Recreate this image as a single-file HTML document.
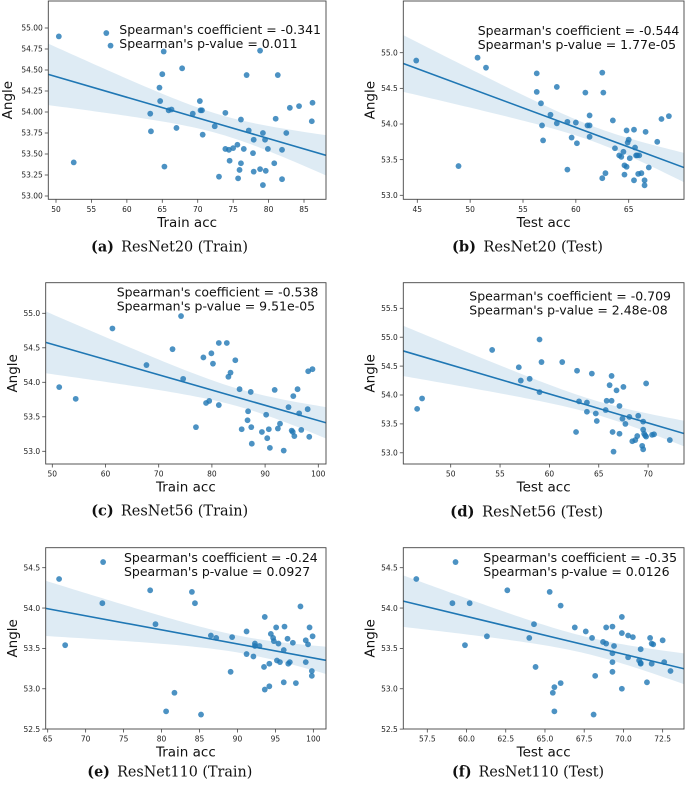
<!DOCTYPE html>
<html><head><meta charset="utf-8"><style>
html,body{margin:0;padding:0;background:#fff;}
svg{display:block;}
.tick{font-family:"DejaVu Sans","Liberation Sans",sans-serif;font-size:7.5px;fill:#222;}
.axl{font-family:"DejaVu Sans","Liberation Sans",sans-serif;font-size:13.5px;fill:#111;}
.ann{font-family:"DejaVu Sans","Liberation Sans",sans-serif;font-size:12.5px;fill:#111;}
.cap{font-family:"DejaVu Serif","Liberation Serif",serif;font-size:14.5px;fill:#111;}
</style></head><body>
<svg id="fig" width="685" height="785" viewBox="0 0 685 785" xmlns="http://www.w3.org/2000/svg"></svg>
<script>
// ===== data =====
const aX=[50.4,52.5,57.1,57.7,65.2,67.8,65.0,64.6,64.7,63.3,63.4,65.9,66.3,67.0,65.3,69.3,70.3,70.4,70.6,70.7,72.4,73.0,73.9,73.9,74.4,75.0,75.6,74.5,76.1,76.1,75.9,75.7,76.5,76.9,77.2,77.8,77.9,77.9,78.8,78.8,79.2,79.5,79.2,79.6,79.9,80.8,81.0,81.3,81.9,81.9,82.5,83.0,84.3,86.1,86.2];
const aY=[54.90,53.40,54.94,54.79,54.72,54.52,54.45,54.29,54.13,53.98,53.77,54.02,54.03,53.81,53.35,53.98,54.13,54.02,54.02,53.73,53.83,53.23,53.99,53.56,53.55,53.57,53.61,53.42,53.91,53.39,53.31,53.21,53.56,54.44,53.78,53.51,53.67,53.29,54.73,53.32,53.75,53.67,53.13,53.30,53.56,53.39,53.92,54.44,53.55,53.20,53.75,54.05,54.07,53.89,54.11];
const bX=[44.9,48.9,50.7,51.5,56.3,56.3,56.7,56.8,56.9,57.6,58.2,58.2,59.2,59.2,59.6,60.0,60.1,60.9,61.1,61.3,61.3,61.3,62.5,62.6,62.5,62.8,63.5,63.7,64.1,64.3,64.5,64.8,64.6,64.8,64.6,64.9,65.0,65.1,65.5,65.6,65.7,65.8,66.0,65.9,65.5,66.2,66.5,66.5,66.6,66.9,67.7,68.1,68.8];
const bY=[54.89,53.41,54.93,54.79,54.71,54.45,54.29,53.98,53.77,54.13,54.52,54.01,54.03,53.36,53.81,54.02,53.73,54.44,53.98,53.98,54.12,53.82,54.72,54.44,53.24,53.31,54.05,53.66,53.56,53.54,53.61,53.91,53.42,53.40,53.29,53.74,53.78,53.52,53.92,53.67,53.56,53.56,53.56,53.30,53.21,53.31,53.21,53.14,53.89,53.39,53.75,54.07,54.11];
const cX=[51.3,54.4,61.3,67.7,72.6,74.2,74.6,77.0,78.4,78.9,79.5,79.9,80.2,81.3,81.3,82.8,83.1,83.5,84.4,85.2,85.6,86.7,86.8,87.3,87.4,87.5,89.4,90.2,90.4,90.7,90.9,91.8,92.4,92.8,93.5,94.4,95.0,95.2,95.3,95.5,96.1,96.4,96.8,98.0,98.1,98.3,98.9];
const cY=[53.93,53.76,54.78,54.25,54.48,54.96,54.05,53.35,54.36,53.70,53.73,54.42,54.27,53.67,54.57,54.57,54.08,54.14,54.32,53.90,53.32,53.45,53.58,53.86,53.35,53.11,53.28,53.53,53.19,53.32,53.05,53.89,53.33,53.40,53.01,53.64,53.30,53.28,53.80,53.22,53.90,53.55,53.31,53.61,54.16,53.21,54.19];
const dX=[46.6,47.1,54.2,56.9,57.1,58.0,59.0,59.0,59.2,61.3,62.8,62.7,63.0,63.8,63.8,64.3,64.7,64.8,65.7,65.8,66.1,66.3,66.3,66.4,66.5,66.8,67.1,67.1,67.4,67.5,67.7,68.1,68.4,68.7,68.9,69.0,69.5,69.4,69.5,69.5,69.6,69.7,69.8,69.8,70.4,70.6,72.2];
const dY=[53.76,53.94,54.78,54.48,54.25,54.28,54.96,54.05,54.57,54.57,54.42,53.36,53.89,53.87,53.71,54.37,53.68,53.55,53.74,53.90,54.17,54.33,53.90,53.36,53.02,54.08,53.81,53.33,53.59,54.14,53.50,53.62,53.20,53.22,53.29,53.64,53.54,53.12,53.06,53.40,53.33,53.30,53.28,54.20,53.31,53.32,53.22];
const eX=[66.5,67.3,72.2,72.3,78.5,79.2,80.6,81.7,84.0,84.4,85.2,86.5,87.2,89.1,89.3,91.2,91.2,92.1,92.3,92.3,92.9,93.5,93.6,93.6,94.2,94.2,94.4,94.7,94.8,95.1,95.2,95.4,95.6,96.1,96.1,96.2,96.6,96.7,96.9,97.3,97.7,98.3,99.0,99.0,99.3,99.5,99.9,99.8,99.8];
const eY=[54.36,53.54,54.06,54.57,54.22,53.80,52.72,52.95,54.20,54.06,52.68,53.66,53.63,53.21,53.64,53.71,53.43,53.40,53.56,53.53,53.53,53.27,53.89,52.99,53.31,53.03,53.68,53.63,53.59,53.76,53.35,53.56,53.33,53.08,53.48,53.77,53.62,53.31,53.33,53.57,53.07,54.02,53.33,53.60,53.55,53.76,53.65,53.22,53.16];
const fX=[56.8,59.1,59.3,59.9,60.2,61.3,62.6,64.0,64.3,64.4,65.3,65.5,65.6,65.6,66.0,66.0,66.9,67.6,68.0,68.1,68.2,68.7,68.9,68.9,69.3,69.3,69.3,69.3,69.4,69.9,69.9,69.9,70.3,70.3,70.6,71.1,71.0,71.1,71.1,71.5,71.7,71.8,71.8,71.9,72.5,72.6,73.0];
const fY=[54.36,54.06,54.57,53.54,54.06,53.65,54.22,53.63,53.80,53.27,54.20,52.95,53.02,52.72,53.07,54.03,53.76,53.71,53.63,52.68,53.16,53.58,53.76,53.56,53.77,53.44,53.33,53.21,53.53,53.89,53.69,53.00,53.39,53.66,53.64,53.49,53.35,53.31,53.32,53.08,53.63,53.31,53.56,53.55,53.60,53.33,53.22];
const aXTicks=[50,55,60,65,70,75,80,85];
const aYTicks=["53.00","53.25","53.50","53.75","54.00","54.25","54.50","54.75","55.00"];
const bXTicks=[45,50,55,60,65];
const bYTicks=["53.0","53.5","54.0","54.5","55.0"];
const cXTicks=[50,60,70,80,90,100];
const cYTicks=["53.0","53.5","54.0","54.5","55.0"];
const dXTicks=[50,55,60,65,70];
const dYTicks=["53.0","53.5","54.0","54.5","55.0","55.5"];
const eXTicks=[65,70,75,80,85,90,95,100];
const eYTicks=["52.5","53.0","53.5","54.0","54.5"];
const fXTicks=["57.5","60.0","62.5","65.0","67.5","70.0","72.5"];
const fYTicks=["52.5","53.0","53.5","54.0","54.5"];
const coefs=["-0.341","-0.544","-0.538","-0.709","-0.24","-0.35"];
const pvals=["0.011","1.77e-05","9.51e-05","2.48e-08","0.0927","0.0126"];

// ===== layout =====
const panels=[
 {id:'a',X:aX,Y:aY,xt:aXTicks,yt:aYTicks,L:48.3,R:326,T:1,B:199.3,x0:50,px0:56,kx:7.086,y0:55,py0:28,ky:84,xl:'Train acc',alx:7,tx:119.3,ty:34,name:'ResNet20 (Train)',cx:169.5,cy:251.5,cw:157},
 {id:'b',X:bX,Y:bY,xt:bXTicks,yt:bYTicks,L:403.3,R:684,T:1,B:199.3,x0:45,px0:417.3,kx:10.57,y0:55,py0:52.7,ky:71.3,xl:'Test acc',alx:369.5,tx:477.7,ty:35,name:'ResNet20 (Test)',cx:527.5,cy:251.5,cw:151},
 {id:'c',X:cX,Y:cY,xt:cXTicks,yt:cYTicks,L:45.7,R:326,T:282.7,B:464,x0:50,px0:52.3,kx:5.32,y0:55,py0:313.3,ky:69,xl:'Train acc',alx:12,tx:116.7,ty:296.5,name:'ResNet56 (Train)',cx:169.7,cy:515.5,cw:157},
 {id:'d',X:dX,Y:dY,xt:dXTicks,yt:dYTicks,L:403.3,R:684,T:282.7,B:464,x0:50,px0:450.7,kx:9.87,y0:55.5,py0:308.3,ky:57.8,xl:'Test acc',alx:369.5,tx:469.3,ty:300.5,name:'ResNet56 (Test)',cx:526.7,cy:516.5,cw:153},
 {id:'e',X:eX,Y:eY,xt:eXTicks,yt:eYTicks,L:45.7,R:326,T:547.7,B:729,x0:65,px0:47.7,kx:7.59,y0:54.5,py0:567.7,ky:80.7,xl:'Train acc',alx:12,tx:124,ty:562,name:'ResNet110 (Train)',cx:169.8,cy:776.5,cw:165},
 {id:'f',X:fX,Y:fY,xt:fXTicks,yt:fYTicks,L:403.3,R:684,T:547.7,B:729,x0:57.5,px0:427.3,kx:15.69,y0:54.5,py0:567.7,ky:80.7,xl:'Test acc',alx:369.5,tx:483.3,ty:562,name:'ResNet110 (Test)',cx:528,cy:776.5,cw:152}
];
const NS='http://www.w3.org/2000/svg';
const svg=document.getElementById('fig');
function mk(tag,attrs,parent){const e=document.createElementNS(NS,tag);for(const k in attrs)e.setAttribute(k,attrs[k]);(parent||svg).appendChild(e);return e;}

panels.forEach((p,i)=>{
  const sx=v=>p.px0+(v-p.x0)*p.kx;
  const sy=v=>p.py0+(p.y0-v)*p.ky;
  const isx=px=>p.x0+(px-p.px0)/p.kx;
  const g=mk('g',{});
  
  
  const cp=mk('clipPath',{id:'clip'+p.id},g);
  mk('rect',{x:p.L,y:p.T,width:p.R-p.L,height:p.B-p.T},cp);
  const n=p.X.length;let mx=0,my=0;for(let k=0;k<n;k++){mx+=p.X[k];my+=p.Y[k];}mx/=n;my/=n;
  let sxx=0,sxy=0;for(let k=0;k<n;k++){sxx+=(p.X[k]-mx)**2;sxy+=(p.X[k]-mx)*(p.Y[k]-my);}
  const b=sxy/sxx,a=my-b*mx;let sse=0;for(let k=0;k<n;k++)sse+=(p.Y[k]-a-b*p.X[k])**2;
  const s=Math.sqrt(sse/(n-2));
  const xa=isx(p.L),xb=isx(p.R);const up=[],lo=[];
  for(let k=0;k<=60;k++){const x=xa+(xb-xa)*k/60;const yh=a+b*x;const h=2.01*s*Math.sqrt(1/n+(x-mx)**2/sxx);up.push(sx(x).toFixed(2)+','+sy(yh+h).toFixed(2));lo.unshift(sx(x).toFixed(2)+','+sy(yh-h).toFixed(2));}
  const band=mk('polygon',{points:up.concat(lo).join(' '),fill:'rgba(31,119,180,0.15)','clip-path':'url(#clip'+p.id+')'},g);
  
  
  for(let k=0;k<n;k++){
    const c=mk('circle',{cx:sx(p.X[k]).toFixed(2),cy:sy(p.Y[k]).toFixed(2),r:2.9,fill:'#1f77b4','fill-opacity':0.8},g);
    
    
  }
  const ln=mk('line',{x1:sx(xa),y1:sy(a+b*xa),x2:sx(xb),y2:sy(a+b*xb),stroke:'#1f77b4','stroke-width':1.6,'clip-path':'url(#clip'+p.id+')'},g);
  
  
  const fr=mk('rect',{x:p.L,y:p.T,width:p.R-p.L,height:p.B-p.T,fill:'none',stroke:'#444','stroke-width':0.9},g);
  
  
  p.xt.forEach(t=>{const x=sx(+t);
    mk('line',{x1:x,y1:p.B,x2:x,y2:p.B+3.5,stroke:'#444','stroke-width':0.8},g);
    const tx=mk('text',{x:x,y:p.B+12.5,'text-anchor':'middle',class:'tick'},g);tx.textContent=t;
    
    });
  p.yt.forEach(t=>{const y=sy(+t);
    mk('line',{x1:p.L-3.5,y1:y,x2:p.L,y2:y,stroke:'#444','stroke-width':0.8},g);
    const ty=mk('text',{x:p.L-5.5,y:y+2.7,'text-anchor':'end',class:'tick'},g);ty.textContent=t;
    
    });
  const xl=mk('text',{x:(p.L+p.R)/2,y:p.B+27.5,'text-anchor':'middle',class:'axl'},g);xl.textContent=p.xl;
  
  
  const yc=(p.T+p.B)/2;
  const yl=mk('text',{x:p.alx,y:yc,'text-anchor':'middle',class:'axl',transform:'rotate(-90 '+p.alx+' '+yc+') translate(0 5)'},g);yl.textContent='Angle';
  
  
  const t1=mk('text',{x:p.tx,y:p.ty,class:'ann'},g);t1.textContent="Spearman's coefficient = "+coefs[i];
  
  
  const t2=mk('text',{x:p.tx,y:p.ty+14,class:'ann'},g);t2.textContent="Spearman's p-value = "+pvals[i];
  
  
  const cap=mk('text',{x:p.cx-p.cw/2,y:p.cy,class:'cap',textLength:p.cw,lengthAdjust:'spacingAndGlyphs'},g);
  
  
  const bt=mk('tspan',{'font-weight':'bold'},cap);bt.textContent='('+p.id+')';
  const nt=mk('tspan',{},cap);nt.textContent='\u2002'+p.name;
});
</script>
</body></html>
